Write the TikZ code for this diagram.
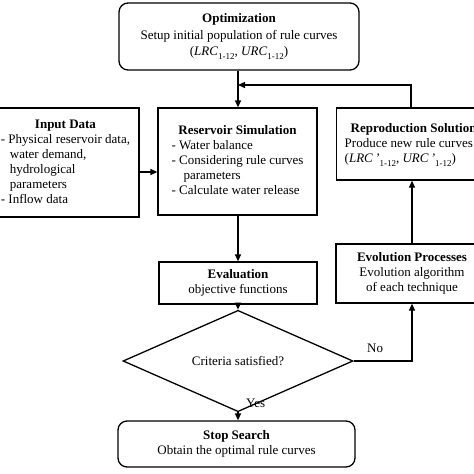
\documentclass[tikz,border=0pt]{standalone}
\usepackage{fontspec}
\setmainfont{Liberation Serif}
\usetikzlibrary{shapes.geometric,arrows.meta}
\newcommand\mysub[1]{\raisebox{-4pt}{\fontsize{9}{9}\selectfont #1}}
\begin{document}
\begin{tikzpicture}[x=1pt,y=-1pt,
  every node/.style={font=\fontsize{13}{15}\selectfont},
  box/.style={draw, line width=1.3pt, inner sep=2pt},
  rbox/.style={box, rounded corners=9pt},
  arr/.style={line width=1.3pt, -{Triangle[length=7pt,width=6pt]}},
  lbl/.style={inner sep=0pt}]
\useasboundingbox (0,0) rectangle (474,474);
\node[rbox, minimum width=240pt, minimum height=67pt, align=center, font=\fontsize{13}{16.5}\selectfont] (opt) at (239,36.5)
  {\textbf{Optimization}\\Setup initial population of rule curves\\(\textit{LRC}\mysub{1-12}, \textit{URC}\mysub{1-12})};
\node[box, minimum width=147pt, minimum height=109pt] (input) at (65.5,162.5)
  {\begin{tabular}{@{}l@{}}\multicolumn{1}{c}{\textbf{Input Data}}\\
   - Physical reservoir data,\\
   \hspace*{9pt}water demand,\\
   \hspace*{9pt}hydrological\\
   \hspace*{9pt}parameters\\
   - Inflow data\end{tabular}};
\node[box, minimum width=159pt, minimum height=107pt] (sim) at (237.5,161.5)
  {\begin{tabular}{@{}l@{}}\multicolumn{1}{c}{\textbf{Reservoir Simulation}}\\
   - Water balance\\
   - Considering rule curves\\
   \hspace*{12pt}parameters\\
   - Calculate water release\end{tabular}};
\node[box, minimum width=154pt, minimum height=72pt, anchor=west, inner sep=8pt] (repro) at (336,144)
  {\begin{tabular}{@{}l@{}}\multicolumn{1}{c}{\textbf{Reproduction Solution}}\\
   Produce new rule curves\\
   (\textit{LRC}\,\textit{'}\mysub{1-12}, \textit{URC}\,\textit{'}\mysub{1-12})\end{tabular}};
\node[box, minimum width=158pt, minimum height=42pt, align=center] (eval) at (238,283)
  {\textbf{Evaluation}\\objective functions};
\node[box, minimum width=152pt, minimum height=59pt, align=center] (evol) at (412,273.5)
  {\textbf{Evolution Processes}\\Evolution algorithm\\of each technique};
\node[draw, line width=1.3pt, diamond, inner sep=0pt, minimum width=230pt, minimum height=62pt] (dec) at (238,361)
  {Criteria satisfied?};
\node[rbox, minimum width=237pt, minimum height=46pt, align=center] (stop) at (236.5,444)
  {\textbf{Stop Search}\\Obtain the optimal rule curves};
\coordinate (fb) at (238,85);
\draw[arr] (opt.south -| fb) -- (sim.north -| fb);
\draw[arr] (repro.north -| 411,0) -- (411,85) -- (fb);
\draw[arr] (input.east |- 0,172) -- (sim.west |- 0,172);
\draw[arr] (sim.south -| fb) -- (eval.north -| fb);
\draw[arr] (evol.north -| 412,0) -- (repro.south -| 412,0);
\draw[arr] (eval.south -| fb) -- (dec.north);
\draw[arr] (dec.east) -- (412,361) -- (evol.south -| 412,0);
\draw[arr] (dec.south) -- (stop.north -| dec.south);
\node[lbl, anchor=west] (no) at (367,348) {No};
\node[lbl, anchor=west] (yes) at (246,403) {Yes};
\end{tikzpicture}
\end{document}
